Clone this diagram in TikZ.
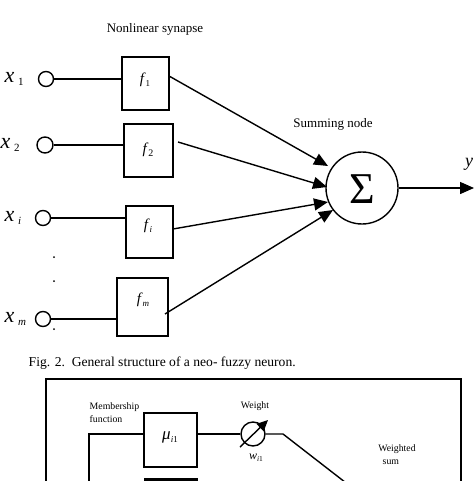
\documentclass[tikz,border=0pt]{standalone}
\usepackage{fontspec}
\setmainfont{Liberation Serif}[ItalicFont={Liberation Serif Italic},BoldFont={Liberation Serif Bold}]
\usetikzlibrary{arrows.meta,calc}
\begin{document}
\begin{tikzpicture}[x=1pt,y=-1pt,line width=1.4pt,
  fbox/.style={draw,inner sep=0pt},
  inp/.style={draw,circle,minimum size=15pt,inner sep=0pt},
  lab/.style={inner sep=0pt,font=\fontsize{13}{15}\selectfont},
  small/.style={inner sep=0pt,font=\fontsize{9.8}{11}\selectfont},
  xl/.style={inner sep=0pt,anchor=west,font=\fontsize{22}{24}\selectfont\itshape},
  fl/.style={inner sep=0pt,font=\fontsize{15}{17}\selectfont},
  tip/.style={-{Triangle[length=14pt,width=12pt]}}]
\useasboundingbox (0,0) rectangle (474,481);
\clip (0,0) rectangle (474,481);
% labels
\node[lab] (nls) at (155,29) {Nonlinear synapse};
\node[lab] (sumn) at (333,124) {Summing node};
% inputs
\node[inp] (c1) at (46,79) {};
\node[inp,minimum size=16pt] (c2) at (45,145) {};
\node[inp] (ci) at (43,218) {};
\node[inp] (cm) at (43,319) {};
\node[xl] (x1) at (4,79) {x\,\raisebox{-3pt}{\fontsize{11}{12}\selectfont\upshape 1}};
\node[xl] (x2) at (0,145) {x\,\raisebox{-3pt}{\fontsize{11}{12}\selectfont\upshape 2}};
\node[xl] (xi) at (4,218) {x\,\raisebox{-3pt}{\fontsize{11}{12}\selectfont i}};
\node[xl] (xm) at (4,319) {x\,\raisebox{-3pt}{\fontsize{11}{12}\selectfont m}};
% boxes
\node[fbox,minimum width=47pt,minimum height=53pt] (f1) at (145.5,83.5) {};
\node[fbox,minimum width=49pt,minimum height=53pt] (f2) at (148.5,150.5) {};
\node[fbox,minimum width=47pt,minimum height=52pt] (fi) at (149.5,232) {};
\node[fbox,minimum width=51pt,minimum height=58pt] (fm) at (142.5,307) {};
\node[fl] at (145,80) {\textit{f}\raisebox{-3pt}{\fontsize{9}{10}\selectfont 1}};
\node[fl] at (148,150) {\textit{f}\raisebox{-3pt}{\fontsize{10}{10}\selectfont 2}};
\node[fl] at (148,226) {\textit{f}\raisebox{-3pt}{\fontsize{9}{10}\selectfont\textit{i}}};
\node[fl] at (143,300) {\textit{f}\raisebox{-3pt}{\fontsize{9}{10}\selectfont\textit{m}}};
\draw (c1) -- (f1.west |- c1);
\draw (c2) -- (f2.west |- c2);
\draw (ci) -- (fi.west |- ci);
\draw (cm) -- (fm.west |- cm);
% dots
\fill (54,257) circle (1pt);
\fill (54,281) circle (1pt);
\fill (54,329) circle (1pt);
% sum
\node[draw,circle,minimum size=72pt,inner sep=0pt] (S) at (362,188) {};
\node[inner sep=0pt,font=\fontsize{44}{46}\selectfont] at (362,189) {Σ};
\coordinate (s1) at (169,76);
\coordinate (s2) at (178,142);
\coordinate (si) at (173,229);
\coordinate (sm) at (165,314);
\coordinate (t1) at (328,166);
\coordinate (t2) at (327,187);
\coordinate (ti) at (328,202);
\coordinate (tm) at (333,210);
\draw[tip] (s1) -- (t1);
\draw[tip] (s2) -- (t2);
\draw[tip] (si) -- (ti);
\draw[tip] (sm) -- (tm);
\coordinate (yout) at (474,188);
\draw[tip] (S) -- (yout);
\node[inner sep=0pt,font=\fontsize{18}{20}\selectfont] (y) at (469,164) {\textit{y}};
% caption
\node[inner sep=0pt,anchor=west,font=\fontsize{13.6}{16}\selectfont] (cap) at (28,363) {Fig. 2.\ \ General structure of a neo- fuzzy neuron.};
% lower figure
\draw[line width=1.2pt] (46,490) -- (46,379) -- (461,379) -- (461,490);
\node[small,anchor=west] (mem) at (89,407) {Membership};
\node[small,anchor=west] (fun) at (89,419) {function};
\node[small] (wt) at (255,406) {Weight};
\node[small] (ws1) at (397,449) {Weighted};
\node[small,anchor=west] (ws2) at (382,462) {sum};
\node[fbox,minimum width=53pt,minimum height=54pt] (mu) at (170.5,440) {};
\node[inner sep=0pt,font=\fontsize{17}{19}\selectfont] at (170,437) {\textit{μ}\raisebox{-3pt}{\fontsize{9}{10}\selectfont\textit{i}1}};
\node[draw,circle,minimum size=24pt,inner sep=0pt] (wc) at (253,434) {};
\coordinate (wa) at (240,447);
\coordinate (wb) at (268,420);
\draw[-{Triangle[length=11pt,width=10pt]}] (wa) -- (wb);
\node[inner sep=0pt,font=\fontsize{12}{13}\selectfont] (wl) at (256,458) {\textit{w}\raisebox{-2pt}{\fontsize{7.5}{8}\selectfont\textit{i}1}};
\coordinate (mt) at (89,434);
\coordinate (mb) at (89,490);
\draw (mb) -- (mt) -- (mu.west |- mt);
\draw (mu.east |- wc) -- (wc);
\coordinate (k) at (283,434);
\coordinate (kd) at (350,486);
\draw (wc) -- (k) -- (kd);
\fill (144,478) rectangle (198,490);
\end{tikzpicture}
\end{document}
